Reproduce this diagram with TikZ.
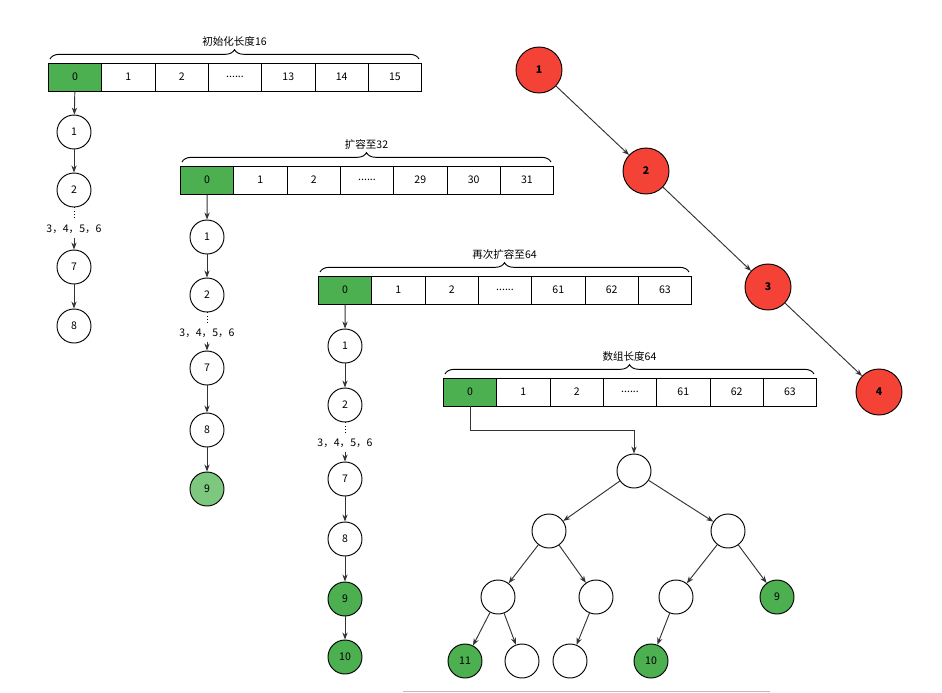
\documentclass[tikz,border=0pt]{standalone}
\usepackage{fontspec}
\setmainfont{Noto Sans CJK SC}
\usetikzlibrary{arrows.meta,decorations.pathreplacing}
\definecolor{cellgreen}{HTML}{4CAF50}
\definecolor{lightgreen}{HTML}{7DC77E}
\definecolor{nodered}{HTML}{F44336}
\tikzset{
	cell/.style = {draw, thick, minimum width=53.3*0.03cm, minimum height=28*0.03cm,
		inner sep=0pt, font=\small, anchor=west},
	ring/.style = {circle, draw, thick, minimum size=34*0.03cm, inner sep=0pt, font=\small, fill=white},
	redring/.style = {circle, draw, thick, fill=nodered, minimum size=46*0.03cm, inner sep=0pt, font=\small\bfseries},
	link/.style = {draw=black!80, thick, -{Stealth[length=6pt]}},
	brace/.style = {decorate, thick, decoration={brace, amplitude=8pt}},
}
\newcommand{\gapdots}{......}
\newcommand{\cellrow}[5]{% prefix, x, y, last three labels
	\foreach \lab [count=\i from 0] in {0,1,2,\gapdots,#4} {
		\ifnum\i=0
			\node[cell, fill=cellgreen] (#1\i) at (#2+\i*53.3, #3) {\lab};
		\else
			\node[cell] (#1\i) at (#2+\i*53.3, #3) {\lab};
		\fi
	}
	\draw[brace] (#2+2, #3-18) -- (#2+371, #3-18)
		node[midway, above=7pt, font=\small] {#5};
}
\begin{document}
\begin{tikzpicture}[x=0.03cm, y=-0.03cm]
	\useasboundingbox (0,0) rectangle (942,692);

	% arrays
	\cellrow{a}{48}{77}{13,14,15}{初始化长度16}
	\cellrow{b}{180}{180}{29,30,31}{扩容至32}
	\cellrow{c}{318}{290}{61,62,63}{再次扩容至64}
	\cellrow{d}{443}{392}{61,62,63}{数组长度64}

	% first chain
	\node[ring] (a1) at (74,132) {1};
	\node[ring] (a2) at (74,190) {2};
	\node[font=\small] (a3) at (74,229) {3，4，5，6};
	\node[ring] (a7) at (74,267) {7};
	\node[ring] (a8) at (74,326) {8};
	\draw[link] (a0) -- (a1);
	\draw[link] (a1) -- (a2);
	\draw[thick, dotted] (a2) -- (a3);
	\draw[link] (a3) -- (a7);
	\draw[link] (a7) -- (a8);

	% second chain
	\node[ring] (b1) at (207,237) {1};
	\node[ring] (b2) at (207,295) {2};
	\node[font=\small] (b3) at (207,333) {3，4，5，6};
	\node[ring] (b7) at (207,368) {7};
	\node[ring] (b8) at (207,430) {8};
	\node[ring, fill=lightgreen] (b9) at (207,489) {9};
	\draw[link] (b0) -- (b1);
	\draw[link] (b1) -- (b2);
	\draw[thick, dotted] (b2) -- (b3);
	\draw[link] (b3) -- (b7);
	\draw[link] (b7) -- (b8);
	\draw[link] (b8) -- (b9);

	% third chain
	\node[ring] (c1) at (345,346) {1};
	\node[ring] (c2) at (345,405) {2};
	\node[font=\small] (c3) at (345,443) {3，4，5，6};
	\node[ring] (c7) at (345,479) {7};
	\node[ring] (c8) at (345,539) {8};
	\node[ring, fill=cellgreen] (c9) at (345,599) {9};
	\node[ring, fill=cellgreen] (c10) at (345,657) {10};
	\draw[link] (c0) -- (c1);
	\draw[link] (c1) -- (c2);
	\draw[thick, dotted] (c2) -- (c3);
	\draw[link] (c3) -- (c7);
	\draw[link] (c7) -- (c8);
	\draw[link] (c8) -- (c9);
	\draw[link] (c9) -- (c10);

	% tree
	\node[ring] (t) at (634,471) {};
	\node[ring] (tl) at (549,531) {};
	\node[ring] (tr) at (728,531) {};
	\node[ring] (tll) at (498,597) {};
	\node[ring] (tlr) at (596,597) {};
	\node[ring] (trl) at (676,597) {};
	\node[ring, fill=cellgreen] (trr) at (777,597) {9};
	\node[ring, fill=cellgreen] (tlll) at (465,661) {11};
	\node[ring] (tllr) at (522,661) {};
	\node[ring] (tlrl) at (570,661) {};
	\node[ring, fill=cellgreen] (trll) at (651,661) {10};
	\draw[link] (d0.south) |- (634,430) -- (t);
	\draw[link] (t) -- (tl);
	\draw[link] (t) -- (tr);
	\draw[link] (tl) -- (tll);
	\draw[link] (tl) -- (tlr);
	\draw[link] (tr) -- (trl);
	\draw[link] (tr) -- (trr);
	\draw[link] (tll) -- (tlll);
	\draw[link] (tll) -- (tllr);
	\draw[link] (tlr) -- (tlrl);
	\draw[link] (trl) -- (trll);
	\draw[black!25] (403,691) -- (770,691);

	% red chain
	\node[redring] (r1) at (539,70) {1};
	\node[redring] (r2) at (646,171) {2};
	\node[redring] (r3) at (768,287) {3};
	\node[redring] (r4) at (879,392) {4};
	\draw[link] (r1) -- (r2);
	\draw[link] (r2) -- (r3);
	\draw[link] (r3) -- (r4);
\end{tikzpicture}
\end{document}
